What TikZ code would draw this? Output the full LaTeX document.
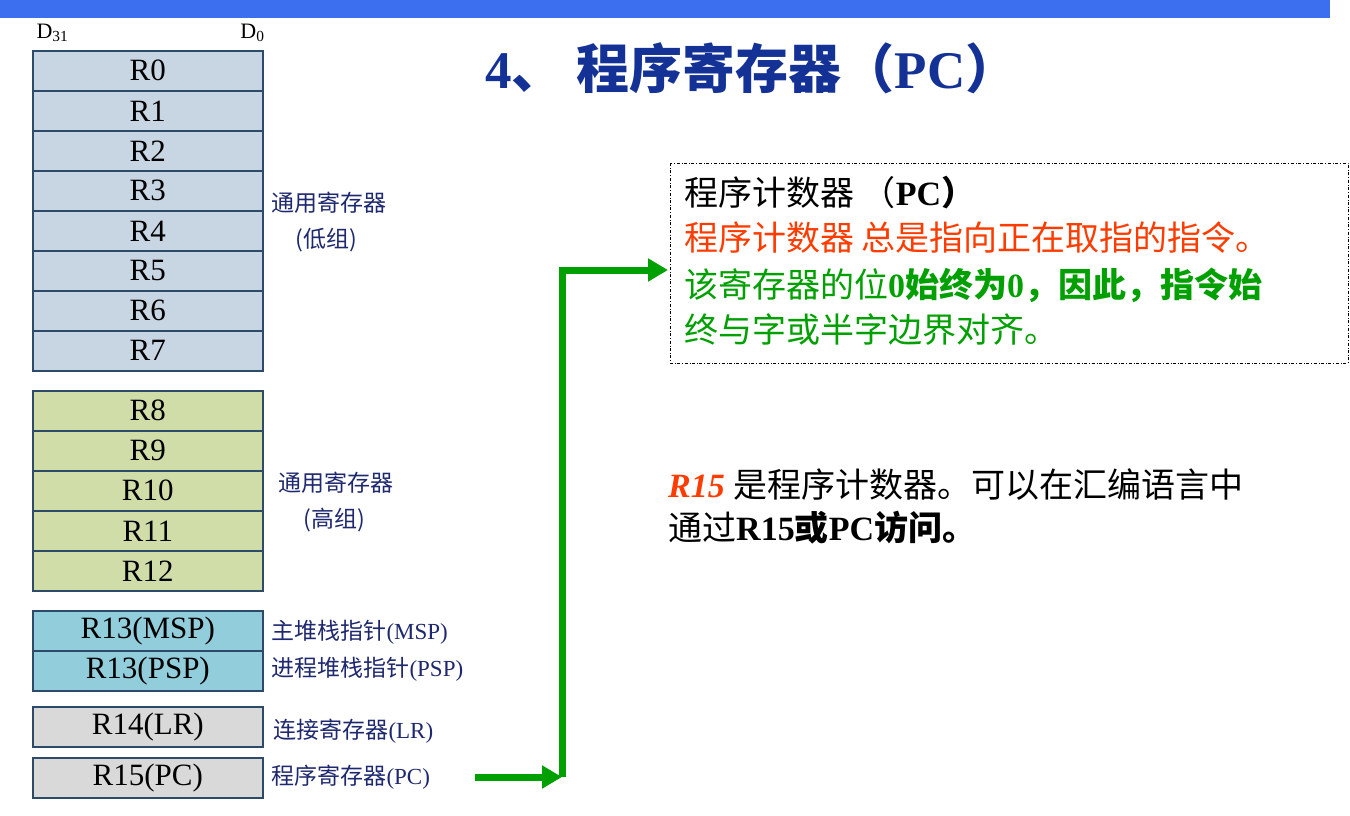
\documentclass[tikz,border=0pt]{standalone}
\usepackage{fontspec}
\usetikzlibrary{arrows.meta}
\setmainfont{Liberation Serif}
\newfontfamily\cjk{Noto Sans CJK SC}
\newfontfamily\cjkb{Noto Sans CJK SC Bold}
\definecolor{lo}{RGB}{200,214,228}
\definecolor{hi}{RGB}{208,221,168}
\definecolor{cy}{RGB}{146,205,220}
\definecolor{gy}{RGB}{217,217,217}
\definecolor{tb}{RGB}{20,50,150}
\definecolor{gr}{RGB}{0,160,0}
\definecolor{rd}{RGB}{255,60,0}
\definecolor{bar}{RGB}{60,110,240}
\definecolor{bd}{RGB}{45,75,105}
\definecolor{lb}{RGB}{30,40,110}
\begin{document}
\begin{tikzpicture}[x=1pt,y=-1pt,
 reg/.style={draw=bd,line width=1.6pt,minimum width=230pt,anchor=north west,inner sep=0pt,font=\fontsize{31}{31}\selectfont},
 lab/.style={anchor=west,text=lb,font=\fontsize{23}{26}\selectfont},
 ln/.style={anchor=west,inner sep=0pt,font=\fontsize{34}{38}\selectfont}]
\useasboundingbox (0,0) rectangle (1350,816);
\fill[bar] (0,0) rectangle (1330,18);
\node[anchor=west] (d31) at (33,33) {\fontsize{22}{22}\selectfont D\textsubscript{31}};
\node[anchor=east] (d0) at (268,33) {\fontsize{22}{22}\selectfont D\textsubscript{0}};
\foreach \i in {0,...,7}{\node[reg,fill=lo,minimum height=40pt] (r\i) at (32,50+40*\i) {R\i};}
\foreach \i in {8,...,12}{\node[reg,fill=hi,minimum height=40pt] (r\i) at (32,70+40*\i) {R\i};}
\node[reg,fill=cy,minimum height=40pt] (msp) at (32,610) {R13(MSP)};
\node[reg,fill=cy,minimum height=40pt] (psp) at (32,650) {R13(PSP)};
\node[reg,fill=gy,minimum height=40pt] (lr) at (32,706) {R14(LR)};
\node[reg,fill=gy,minimum height=40pt] (pc) at (32,757) {R15(PC)};
\node[lab] (l1) at (268,203) {\cjk 通用寄存器};
\node[lab] (l2) at (292,240) {\cjk (低组)};
\node[lab] (l3) at (275,483) {\cjk 通用寄存器};
\node[lab] (l4) at (300,520) {\cjk (高组)};
\node[lab] (l5) at (268,632) {\cjk 主堆栈指针\rmfamily(MSP)};
\node[lab] (l6) at (268,669) {\cjk 进程堆栈指针\rmfamily(PSP)};
\node[lab] (l7) at (270,731) {\cjk 连接寄存器\rmfamily(LR)};
\node[lab] (l8) at (268,777) {\cjk 程序寄存器\rmfamily(PC)};
\node[text=tb] (title) at (752,68) {\fontsize{53}{53}\selectfont\bfseries 4{\cjkb 、 程序寄存器（}PC{\cjkb ）}};
\draw[dash dot,line width=0.6pt] (670,163) rectangle (1348,363);
\node[ln] (t1) at (684,193) {\cjk 程序计数器 （\rmfamily\bfseries PC\cjk ）};
\node[ln,text=rd] (t2) at (684,238) {\cjk 程序计数器 总是指向正在取指的指令。};
\node[ln,text=gr] (t3) at (684,285) {\cjk 该寄存器的位\rmfamily\bfseries 0\cjk 始终为\rmfamily\bfseries 0\cjk ，因此，指令始};
\node[ln,text=gr] (t4) at (684,330) {\cjk 终与字或半字边界对齐。};
\node[ln] (s1) at (668,485) {{\color{rd}\itshape\bfseries R15} \cjk 是程序计数器。可以在汇编语言中};
\node[ln] (s2) at (668,528) {\cjk 通过\rmfamily\bfseries R15\cjk 或\rmfamily\bfseries PC\cjk 访问。};
\coordinate (a0) at (475,777);
\coordinate (a1) at (562,777);
\coordinate (a2) at (668,270);
\draw[gr,line width=7pt,-{Triangle[length=20pt,width=22pt]}] (a0) -- (a1);
\draw[gr,line width=7pt,-{Triangle[length=20pt,width=22pt]}] (a1) |- (a2);
\end{tikzpicture}
\end{document}
